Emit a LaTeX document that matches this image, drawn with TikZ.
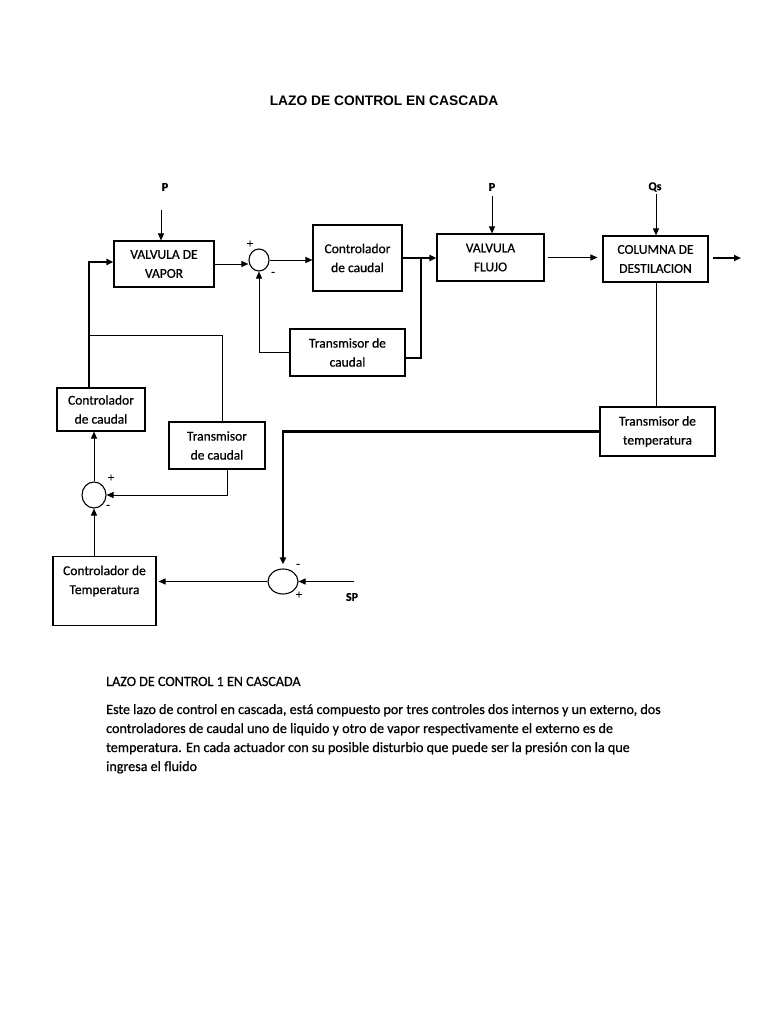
\documentclass[tikz,border=0pt]{standalone}
\usepackage{fontspec}
\setmainfont{Carlito}[FakeBold=0.6]
\newfontfamily\arialfont{Liberation Sans}
\usetikzlibrary{arrows.meta,shapes.geometric}
\begin{document}
\begin{tikzpicture}[x=1pt,y=-1pt,
 blk/.style={draw,line width=1.1pt,inner sep=0pt,align=center,font=\fontsize{13.5}{19}\selectfont},
 txt/.style={inner sep=0pt,align=center,font=\fontsize{13.5}{19}\selectfont},
 sumj/.style={draw,ellipse,line width=1.1pt,inner sep=0pt},
 thinl/.style={line width=1pt},
 thickl/.style={line width=2.2pt},
 arr/.style={-{Triangle[length=7pt,width=6pt]}},
 lbl/.style={font=\bfseries\fontsize{12}{14}\selectfont, inner sep=0pt},
 sgn/.style={font=\fontsize{12.5}{14}\selectfont, inner sep=0pt},
 para/.style={font=\fontsize{14.1}{19}\selectfont, inner sep=0pt, anchor=base west}]
\useasboundingbox[fill=white] (0,0) rectangle (768,1024);

% title
\node[font=\arialfont\bfseries\fontsize{13.8}{16}\selectfont] (title) at (384,101) {LAZO DE CONTROL EN CASCADA};

% blocks
\node[blk, minimum width=100, minimum height=46] (vv) at (164,264) {VALVULA DE\\VAPOR};
\node[blk, minimum width=89, minimum height=66] (cc1) at (357.5,258) {Controlador\\de caudal};
\node[blk, minimum width=107, minimum height=47] (vf) at (490.5,257.5) {VALVULA\\FLUJO};
\node[blk, minimum width=105, minimum height=46] (col) at (655.5,259) {COLUMNA DE\\DESTILACION};
\node[blk, minimum width=115, minimum height=47] (tc1) at (347.5,352.5) {Transmisor de\\caudal};
\node[blk, minimum width=115, minimum height=49] (tt) at (657.5,431.5) {Transmisor de\\temperatura};
\node[blk, minimum width=88, minimum height=43] (cc2) at (101,409.5) {Controlador\\de caudal};
\node[blk, minimum width=96, minimum height=47] (tc2) at (217,445.5) {Transmisor\\de caudal};
\node[blk, minimum width=103, minimum height=69, anchor=north] (ct) at (104.5,556) {};
\node[txt] (cttext) at (104.5,581) {Controlador de\\Temperatura};

% summing junctions
\node[sumj, minimum width=20, minimum height=22] (s1) at (259,260) {};
\node[sumj, minimum width=24, minimum height=26] (s2) at (94,495) {};
\node[sumj, minimum width=30, minimum height=25] (s3) at (283,581.5) {};

% signs
\node[sgn] (s1p) at (250,244) {+};
\node[sgn] (s1m) at (273,274) {-};
\node[sgn] (s2p) at (111,478) {+};
\node[sgn] (s2m) at (108,507) {-};
\node[sgn] (s3m) at (298,566) {-};
\node[sgn] (s3p) at (299,595) {+};

% disturbance labels
\node[lbl] (p1) at (165,187) {P};
\node[lbl] (p2) at (492,187) {P};
\node[lbl] (qs) at (655,187) {Qs};
\node[lbl] (sp) at (352,597) {SP};

% coordinates
\coordinate (p1a) at (161,210);
\coordinate (p2a) at (492,196);
\coordinate (qsa) at (656,194);
\coordinate (j1) at (421,258);
\coordinate (j2) at (421,358);
\coordinate (j3) at (89,335);
\coordinate (j4) at (89,262);
\coordinate (spa) at (354,581.5);
\coordinate (outa) at (713,258);
\coordinate (outb) at (741,258);

% connectors
\draw[thinl,arr] (p1a) -- (p1a |- vv.north);
\draw[thinl,arr] (p2a) -- (p2a |- vf.north);
\draw[thinl,arr] (qsa) -- (qsa |- col.north);

\draw[thinl,arr] (vv.east) -- (vv.east -| s1.west);
\draw[thinl,arr] (s1.east) -- (s1.east -| cc1.west);
\draw[thickl,arr] (cc1.east |- j1) -- (j1 -| vf.west);
\draw[thickl] (j1) -- (j2) -- (j2 -| tc1.east);
\draw[thinl,arr] (tc1.west) -| (s1.south);
\draw[thinl,arr,shorten <=3pt,shorten >=5pt] (vf.east) -- (vf.east -| col.west);
\draw[thickl,arr] (outa) -- (outb);

\draw[thinl] (col.south -| qsa) -- (qsa |- tt.north);
\draw[thickl,arr,shorten >=4pt] (tt.west) -| (s3.north);
\draw[thinl,arr] (spa) -- (s3.east);
\draw[thinl,arr,shorten >=2pt] (s3.west) -- (s3.west -| ct.east);

\draw[thinl,arr] (s2.south |- ct.north) -- (s2.south);
\draw[thinl,arr] (s2.north) -- (s2.north |- cc2.south);
\draw[thinl,arr] ([xshift=10pt]tc2.south) |- (s2.east);
\draw[thinl] ([xshift=5pt]tc2.north) |- (j3);
\draw[thickl,arr] (j3 |- cc2.north) -- (j4) -- (j4 -| vv.west);

% bottom text
\node[para] (h2) at (106,686) {LAZO DE CONTROL 1 EN CASCADA};
\node[para] (l1) at (106,714) {Este lazo de control en cascada, está compuesto por tres controles dos internos y un externo, dos};
\node[para] (l2) at (106,733) {controladores de caudal uno de liquido y otro de vapor respectivamente el externo es de};
\node[para] (l3) at (106,752) {temperatura. En cada actuador con su posible disturbio que puede ser la presión con la que};
\node[para] (l4) at (106,771) {ingresa el fluido};
\end{tikzpicture}
\end{document}
